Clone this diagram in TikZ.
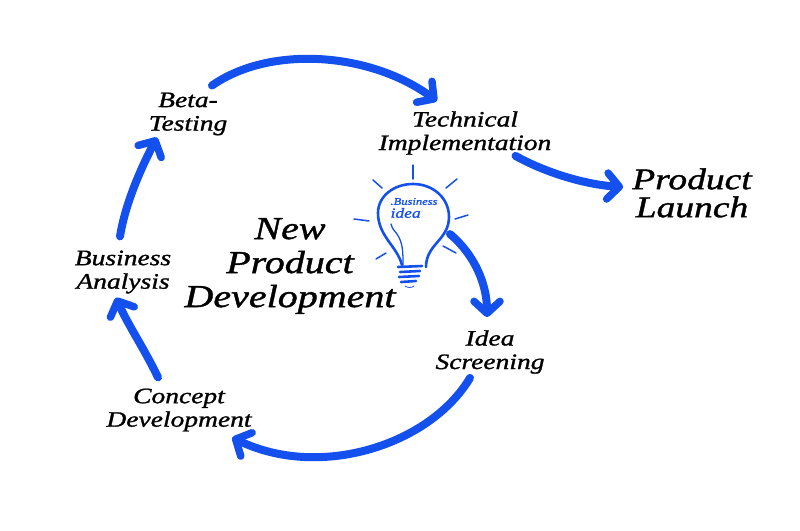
\documentclass[tikz,border=0pt]{standalone}
\usepackage{fontspec}
\setmainfont[FakeStretch=1.25,FakeBold=1.2]{Liberation Serif}
\usetikzlibrary{arrows.meta}
\definecolor{flowblue}{HTML}{1450EE}
\begin{document}
\begin{tikzpicture}[x=1pt, y=-1pt, >={Straight Barb[length=12pt,width=26pt,line width=7.5pt,round]}]
    \tikzstyle{step label} = [align=center, font=\fontsize{22}{23.5}\selectfont\itshape, inner sep=0pt]
    \tikzstyle{big label} = [align=center, font=\fontsize{32}{34}\selectfont\itshape, inner sep=0pt]
    \tikzstyle{launch label} = [align=center, font=\fontsize{30}{28}\selectfont\itshape, inner sep=0pt]
    \tikzstyle{flow} = [->, draw=flowblue, line width=8pt, line cap=round]
    \tikzstyle{bulb} = [draw=flowblue, line width=2.6pt, line cap=round]
    \tikzstyle{ray} = [draw=flowblue, line width=1.5pt, line cap=round]
    \useasboundingbox (0,0) rectangle (800,530);

    % Nodes
    \node[step label] (beta) at (188,114) {Beta-\\Testing};
    \node[step label] (technical) at (465,133) {Technical\\Implementation};
    \node[launch label] (launch) at (692,193) {Product\\Launch};
    \node[step label] (screening) at (490,352) {Idea\\Screening};
    \node[step label] (concept) at (179,410) {Concept\\Development};
    \node[step label] (analysis) at (123,272) {Business\\Analysis};
    \node[big label] (title) at (290,266) {New\\Product\\Development};
    \node[text=flowblue, align=left, inner sep=0pt, font=\itshape] (idea) at (414,208) {{\fontsize{10}{12}\selectfont .Business}\\[1pt]{\fontsize{14}{14}\selectfont idea}};

    % Bulb
    \draw[bulb] (402,265) .. controls (397,246) and (378,236) .. (378,213)
        .. controls (378,196) and (394,184) .. (413,184)
        .. controls (433,184) and (449,198) .. (449,217)
        .. controls (449,240) and (426,244) .. (426,267);
    \draw[bulb, line width=1.3pt] (391,224) .. controls (391,227) and (393,229) .. (397,234)
        .. controls (403,243) and (403,252) .. (403,265);
    \foreach \ya/\xa/\xb in {267/398/422, 272/400/420, 277/399/419, 282/401/416}
        \draw[bulb] (\xa,\ya) -- (\xb,\ya-1);
    \draw[bulb, line width=.8pt] (405,286) .. controls (408,288) and (411,288) .. (414,286);

    % Rays
    \draw[ray] (413,165) -- (413,179);
    \draw[ray] (373,180) -- (382,188);
    \draw[ray] (457,179) -- (446,188);
    \draw[ray] (354,219) -- (369,221);
    \draw[ray] (468,215) -- (455,219);
    \draw[ray] (386,253) -- (376,259);
    \draw[ray] (443,246) -- (456,253);

    % Arrows
    \draw[flow] ([xshift=24pt,yshift=7pt]beta.north) .. controls (270,45) and (370,52) .. ([xshift=-28pt,yshift=10pt]technical.north);
    \draw[flow] ([xshift=-36pt,yshift=-1pt]technical.south east) .. controls (550,175) and (590,185) .. ([xshift=-9pt,yshift=6pt]launch.west);
    \draw[flow] ([xshift=36pt,yshift=-16pt]idea.south) .. controls (475,255) and (487,285) .. ([xshift=-3pt,yshift=13pt]screening.north);
    \draw[flow] ([xshift=-20pt,yshift=-4pt]screening.south) .. controls (430,445) and (320,480) .. ([xshift=126pt,yshift=-6pt]concept.south west);
    \draw[flow] ([xshift=-21pt,yshift=11pt]concept.north) .. controls (145,350) and (128,325) .. ([xshift=-7pt,yshift=-4pt]analysis.south);
    \draw[flow] ([xshift=-3pt,yshift=14pt]analysis.north) .. controls (125,205) and (140,170) .. ([xshift=-31pt,yshift=-2pt]beta.south);
\end{tikzpicture}
\end{document}
